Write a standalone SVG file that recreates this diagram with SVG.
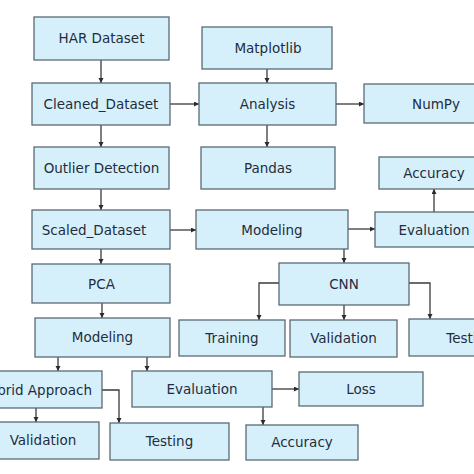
<svg xmlns="http://www.w3.org/2000/svg" width="474" height="474" viewBox="0 0 474 474">
<defs>
<marker id="ah" markerUnits="userSpaceOnUse" markerWidth="6" markerHeight="6" refX="5" refY="2.5" orient="auto">
<path d="M0,0 L5,2.5 L0,5 z" fill="#2b2b2b"/>
</marker>
</defs>
<style>
.n rect{fill:#d6f0fb;stroke:#5b6b74;stroke-width:1.3}
.n text{font-family:"DejaVu Sans",Verdana,sans-serif;font-size:13.5px;fill:#1f2d3d;text-anchor:middle}
#edges path{fill:none;stroke:#3a3a3a;stroke-width:1.3;marker-end:url(#ah)}
</style>
<rect width="474" height="474" fill="#ffffff"/>
<g id="edges">
<path d="M101,60 V83"/>
<path d="M101,125 V147"/>
<path d="M101,189 V210"/>
<path d="M101,249 V264"/>
<path d="M102,303 V318"/>
<path d="M58,357 V371"/>
<path d="M147,357 V371"/>
<path d="M36,408 V422"/>
<path d="M102,390 H119 V423"/>
<path d="M272,389 H299"/>
<path d="M263,407 V425"/>
<path d="M170,104 H199"/>
<path d="M267,69 V83"/>
<path d="M267,125 V147"/>
<path d="M336,104 H364"/>
<path d="M170,230 H196"/>
<path d="M348,229 H375"/>
<path d="M434,212 V189"/>
<path d="M344,249 V263"/>
<path d="M279,283 H259 V320"/>
<path d="M344,305 V320"/>
<path d="M409,283 H430 V319"/>
</g>
<g id="har" class="n"><rect x="34" y="17" width="135" height="43"/><text x="101.5" y="43">HAR Dataset</text></g>
<g id="cleaned" class="n"><rect x="32" y="83" width="138" height="42"/><text x="101" y="109">Cleaned_Dataset</text></g>
<g id="outlier" class="n"><rect x="34" y="147" width="135" height="42"/><text x="101.5" y="173">Outlier Detection</text></g>
<g id="scaled" class="n"><rect x="32" y="210" width="138" height="39"/><text x="94" y="234.5">Scaled_Dataset</text></g>
<g id="matplotlib" class="n"><rect x="202" y="27" width="130" height="42"/><text x="268" y="53">Matplotlib</text></g>
<g id="analysis" class="n"><rect x="199" y="83" width="137" height="42"/><text x="267.5" y="109">Analysis</text></g>
<g id="pandas" class="n"><rect x="201" y="147" width="134" height="42"/><text x="268" y="173">Pandas</text></g>
<g id="modeling1" class="n"><rect x="196" y="210" width="152" height="39"/><text x="272" y="234.5">Modeling</text></g>
<g id="numpy" class="n"><rect x="364" y="84" width="144" height="39"/><text x="436" y="108.5">NumPy</text></g>
<g id="accuracy1" class="n"><rect x="379" y="157" width="110" height="32"/><text x="434" y="178">Accuracy</text></g>
<g id="evaluation1" class="n"><rect x="375" y="212" width="118" height="35"/><text x="434" y="234.5">Evaluation</text></g>
<g id="pca" class="n"><rect x="32" y="264" width="138" height="39"/><text x="101.5" y="288.5">PCA</text></g>
<g id="cnn" class="n"><rect x="279" y="263" width="130" height="42"/><text x="344" y="288.5">CNN</text></g>
<g id="modeling2" class="n"><rect x="35" y="318" width="135" height="39"/><text x="102.5" y="342">Modeling</text></g>
<g id="training" class="n"><rect x="179" y="320" width="106" height="36"/><text x="232" y="342.5">Training</text></g>
<g id="validation2" class="n"><rect x="290" y="320" width="107" height="37"/><text x="343.5" y="343">Validation</text></g>
<g id="testing2" class="n"><rect x="409" y="319" width="122" height="37"/><text x="470" y="342.5">Testing</text></g>
<g id="hybrid" class="n"><rect x="-31" y="371" width="133" height="37"/><text x="35.5" y="394.5">Hybrid Approach</text></g>
<g id="evaluation2" class="n"><rect x="132" y="371" width="140" height="36"/><text x="202" y="394">Evaluation</text></g>
<g id="loss" class="n"><rect x="299" y="372" width="124" height="34"/><text x="361" y="393.5">Loss</text></g>
<g id="validation1" class="n"><rect x="-13" y="422" width="112" height="37"/><text x="43" y="445">Validation</text></g>
<g id="testing1" class="n"><rect x="110" y="423" width="119" height="37"/><text x="169.5" y="446">Testing</text></g>
<g id="accuracy2" class="n"><rect x="246" y="425" width="112" height="35"/><text x="302" y="447">Accuracy</text></g>
</svg>
